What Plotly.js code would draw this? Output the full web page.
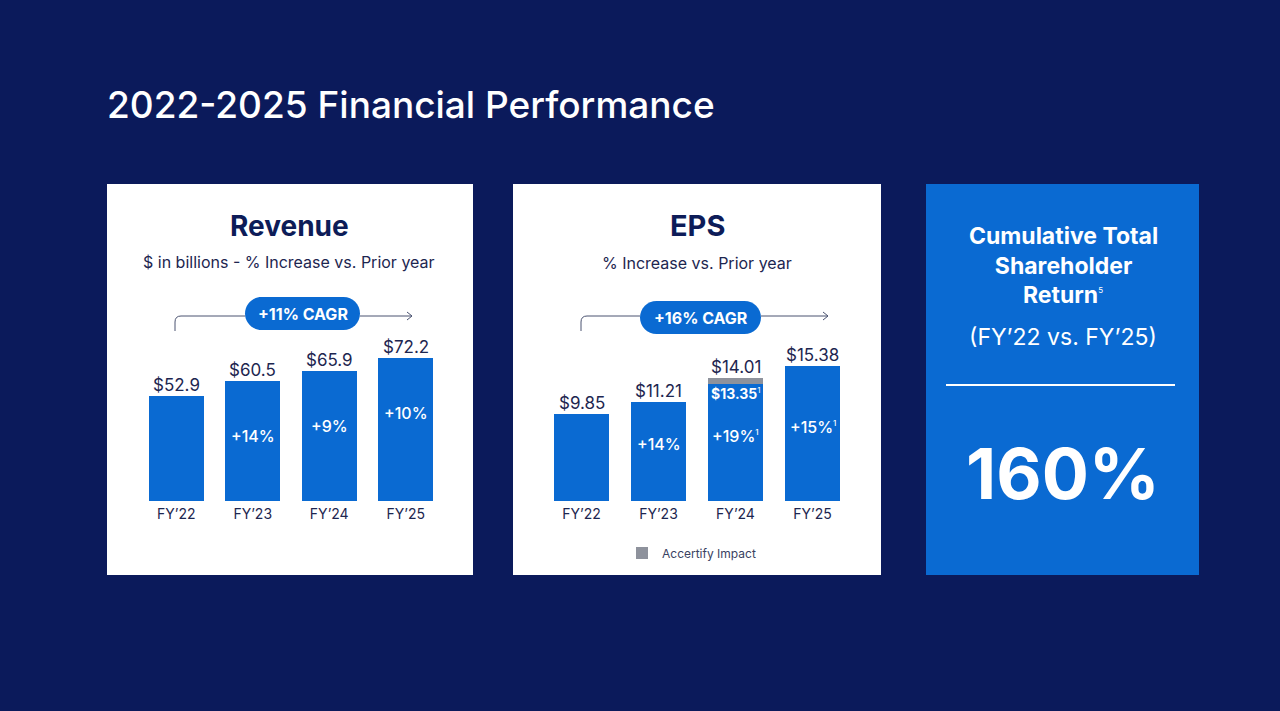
<!DOCTYPE html>
<html>
<head>
<meta charset="utf-8">
<script src="https://cdn.plot.ly/plotly-3.0.1.min.js"></script>
<style>
  html, body { margin: 0; padding: 0; background: #0b1a5b; }
  #chart { width: 1280px; height: 711px; }
</style>
</head>
<body>
<div id="chart"></div>
<script>
// Fiscal years shown on both bar charts
const years = ["FY’22", "FY’23", "FY’24", "FY’25"];

// Revenue, $ in billions, and growth vs. prior year
const revenue = [52.9, 60.5, 65.9, 72.2];
const revenueGrowth = ["", "+14%", "+9%", "+10%"];
const revenueCagr = "+11% CAGR";

// EPS, reported and excluding the Accertify gain
const eps = [9.85, 11.21, 14.01, 15.38];
const epsExAccertify = [9.85, 11.21, 13.35, 15.38];
const epsGrowth = ["", "+14%", "+19%", "+15%"];
const epsGrowthNote = ["", "", "1", "1"];
const epsCagr = "+16% CAGR";

// Cumulative total shareholder return
const tsrValue = "160%";

const W = 1280, H = 711;
const px = x => x / W;
const py = y => 1 - y / H;

const NAVY = "#0b1a5b";
const BLUE = "#0a6ad2";
const INK = "#1d2650";
const HEAD = "#0d1c58";
const GRAY = "#8e929c";
const FONT = "Inter, 'Noto Sans', sans-serif";

// small footnote marker
const note = n => n ? `<sup><span style="font-size:8px">${n}</span></sup>` : "";

const accertifyImpact = eps.map((v, i) => +(v - epsExAccertify[i]).toFixed(2));

const traces = [
  {
    type: "bar", x: years, y: revenue, xaxis: "x", yaxis: "y",
    marker: { color: BLUE }, showlegend: false, hoverinfo: "skip"
  },
  {
    type: "bar", x: years, y: epsExAccertify, xaxis: "x2", yaxis: "y2",
    marker: { color: BLUE }, showlegend: false, hoverinfo: "skip"
  },
  {
    type: "bar", x: years, y: accertifyImpact, xaxis: "x2", yaxis: "y2",
    name: "Accertify Impact", marker: { color: GRAY }, showlegend: true, hoverinfo: "skip"
  }
];

const annotations = [];
const add = (o) => annotations.push(Object.assign(
  { showarrow: false, xanchor: "center", yanchor: "middle", font: { family: FONT } }, o));

// Panel headings
add({ text: "<b>Revenue</b>", x: px(289), y: py(226), xref: "paper", yref: "paper",
      font: { family: FONT, size: 28, color: HEAD } });
add({ text: "$ in billions - % Increase vs. Prior year", x: px(289), y: py(262), xref: "paper", yref: "paper",
      font: { family: FONT, size: 16, color: INK } });
add({ text: "<b>EPS</b>", x: px(697), y: py(226), xref: "paper", yref: "paper",
      font: { family: FONT, size: 29, color: HEAD } });
add({ text: "% Increase vs. Prior year", x: px(697), y: py(263), xref: "paper", yref: "paper",
      font: { family: FONT, size: 16, color: INK } });

// Value labels above the bars
revenue.forEach((v, i) => add({
  text: "$" + v.toFixed(1), x: years[i], y: v, xref: "x", yref: "y",
  yanchor: "bottom", yshift: -1, font: { family: FONT, size: 17, color: INK }
}));
eps.forEach((v, i) => add({
  text: "$" + v.toFixed(2), x: years[i], y: v, xref: "x2", yref: "y2",
  yanchor: "bottom", yshift: -1, font: { family: FONT, size: 17, color: INK }
}));

// Growth labels inside the bars
revenueGrowth.forEach((t, i) => { if (t) add({
  text: t, x: years[i], y: revenue[i], xref: "x", yref: "y",
  yshift: -55, font: { family: FONT, size: 16, weight: 500, color: "#ffffff" }
}); });
const epsShift = [0, -42, -58, -61];
epsGrowth.forEach((t, i) => { if (t) add({
  text: t + note(epsGrowthNote[i]), x: years[i], y: eps[i], xref: "x2", yref: "y2",
  yshift: epsShift[i], font: { family: FONT, size: 16, weight: 500, color: "#ffffff" }
}); });
// FY'24 EPS excluding Accertify, inside the bar
add({ text: "<b>$" + epsExAccertify[2].toFixed(2) + "</b>" + note("1"), x: years[2], y: epsExAccertify[2],
      xref: "x2", yref: "y2", yshift: -10,
      font: { family: FONT, size: 14, color: "#ffffff" } });

// CAGR pills
add({ text: "<b>" + revenueCagr + "</b>", x: px(302.5), y: py(313.5), xref: "paper", yref: "paper",
      font: { family: FONT, size: 16, color: "#ffffff" } });
add({ text: "<b>" + epsCagr + "</b>", x: px(700.5), y: py(317.5), xref: "paper", yref: "paper",
      font: { family: FONT, size: 16, color: "#ffffff" } });

// Shareholder return panel
add({ text: "<b>Cumulative Total<br>Shareholder</b>", x: px(1063), y: py(251), xref: "paper", yref: "paper",
      font: { family: FONT, size: 23, color: "#ffffff" } });
add({ text: "<b>Return</b>" + note("5"), x: px(1063), y: py(295), xref: "paper", yref: "paper",
      font: { family: FONT, size: 23, color: "#ffffff" } });
add({ text: "(FY’22 vs. FY’25)", x: px(1063), y: py(337), xref: "paper", yref: "paper",
      font: { family: FONT, size: 23, color: "#ffffff" } });
add({ text: "<b>" + tsrValue + "</b>", x: px(1063), y: py(473), xref: "paper", yref: "paper",
      font: { family: FONT, size: 70, color: "#ffffff" } });

// Shape helpers in page pixels
const path = (d, color, width) => ({
  type: "path", xref: "paper", yref: "paper", layer: "below",
  path: d.replace(/(-?\d+(\.\d+)?),(-?\d+(\.\d+)?)/g, (m, a, _b, c) => px(+a) + "," + py(+c)),
  line: { color: color, width: width }
});
const pill = (x0, x1, y0, y1) => {
  const r = (y1 - y0) / 2, k = r * 0.552;
  const ym = (y0 + y1) / 2;
  const d = `M${x0 + r},${y0} L${x1 - r},${y0} C${x1 - r + k},${y0} ${x1},${ym - k} ${x1},${ym} ` +
            `C${x1},${ym + k} ${x1 - r + k},${y1} ${x1 - r},${y1} L${x0 + r},${y1} ` +
            `C${x0 + r - k},${y1} ${x0},${ym + k} ${x0},${ym} C${x0},${ym - k} ${x0 + r - k},${y0} ${x0 + r},${y0} Z`;
  const s = path(d, BLUE, 0);
  s.fillcolor = BLUE;
  return s;
};
const bracket = (xl, yb, yl, xp0, xp1, xa) => [
  path(`M${xl},${yb} L${xl},${yl + 6} Q${xl},${yl} ${xl + 6},${yl} L${xp0},${yl}`, "#4a5270", 1),
  path(`M${xp1},${yl} L${xa},${yl}`, "#4a5270", 1),
  path(`M${xa - 5},${yl - 4} L${xa},${yl} L${xa - 5},${yl + 4}`, "#4a5270", 1)
];

const shapes = [
  // panels
  { type: "rect", xref: "paper", yref: "paper", layer: "below", x0: px(107), x1: px(473), y0: py(575), y1: py(184),
    fillcolor: "#ffffff", line: { width: 0 } },
  { type: "rect", xref: "paper", yref: "paper", layer: "below", x0: px(513), x1: px(881), y0: py(575), y1: py(184),
    fillcolor: "#ffffff", line: { width: 0 } },
  { type: "rect", xref: "paper", yref: "paper", layer: "below", x0: px(926), x1: px(1199), y0: py(575), y1: py(184),
    fillcolor: BLUE, line: { width: 0 } },
  // divider in the return panel
  { type: "line", xref: "paper", yref: "paper", layer: "below", x0: px(946), x1: px(1175), y0: py(385), y1: py(385),
    line: { color: "#ffffff", width: 2 } },
  ...bracket(175, 331, 316, 245, 360, 412),
  ...bracket(581, 331, 316, 640, 761, 828),
  pill(245, 360, 297, 330),
  pill(640, 761, 301, 334)
];

const catAxis = (lo, hi) => ({
  domain: [px(lo), px(hi)], type: "category", range: [-0.5, 3.5], fixedrange: true,
  showgrid: false, zeroline: false, showline: false, ticks: "", ticklabelstandoff: 3,
  tickfont: { family: FONT, size: 14, color: INK }
});

const layout = {
  width: W, height: H,
  margin: { l: 0, r: 0, t: 0, b: 0 },
  paper_bgcolor: NAVY, plot_bgcolor: "rgba(0,0,0,0)",
  barmode: "stack", bargap: 0.28,
  title: {
    text: "2022-2025 Financial Performance",
    x: px(107), xanchor: "left", xref: "paper",
    y: py(105), yanchor: "middle", yref: "paper",
    font: { family: FONT, size: 37, weight: 500, color: "#ffffff" }
  },
  xaxis: Object.assign(catAxis(138, 444), { anchor: "y" }),
  yaxis: { domain: [py(501), py(303)], range: [0, 100], visible: false, fixedrange: true },
  xaxis2: Object.assign(catAxis(543, 851), { anchor: "y2" }),
  yaxis2: { domain: [py(501), py(301)], range: [0, 200 / 8.8], visible: false, fixedrange: true },
  showlegend: true,
  legend: {
    x: px(622), y: py(553), xanchor: "left", yanchor: "middle", xref: "paper", yref: "paper",
    bgcolor: "rgba(0,0,0,0)", font: { family: FONT, size: 12, color: "#3a4262" }
  },
  annotations: annotations,
  shapes: shapes
};

Plotly.newPlot("chart", traces, layout, { staticPlot: true, displayModeBar: false });
</script>
</body>
</html>
